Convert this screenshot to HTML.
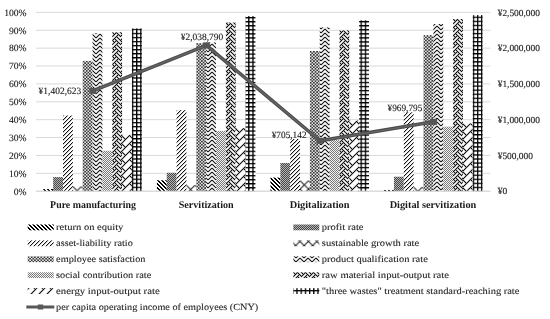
<!DOCTYPE html><html><head><meta charset="utf-8"><style>html,body{margin:0;padding:0;background:#fff;}svg{display:block;}text{font-family:"Liberation Serif",serif;text-rendering:geometricPrecision;}</style></head><body>
<svg width="550" height="319" viewBox="0 0 550 319">
<defs><pattern id="q1" patternUnits="userSpaceOnUse" x="43.00" y="189.00" width="4" height="4"><rect width="4" height="4" fill="#fff"/><g fill="#000"><rect x="0" y="0" width="1" height="1"/><rect x="1" y="0" width="1" height="1"/><rect x="1" y="1" width="1" height="1"/><rect x="2" y="1" width="1" height="1"/><rect x="2" y="2" width="1" height="1"/><rect x="3" y="2" width="1" height="1"/><rect x="3" y="3" width="1" height="1"/><rect x="0" y="3" width="1" height="1"/></g></pattern>
<pattern id="q2" patternUnits="userSpaceOnUse" x="53.00" y="177.00" width="2" height="2"><rect width="2" height="2" fill="#b4b4b4"/><rect width="1" height="1" fill="#474747"/><rect x="1" y="1" width="1" height="1" fill="#474747"/></pattern>
<pattern id="q3" patternUnits="userSpaceOnUse" x="63.00" y="116.00" width="4" height="4"><rect width="4" height="4" fill="#fff"/><rect x="3" y="0" width="1" height="1" fill="#111"/><rect x="0" y="0" width="1" height="1" fill="#c8c8c8"/><rect x="2" y="1" width="1" height="1" fill="#111"/><rect x="3" y="1" width="1" height="1" fill="#c8c8c8"/><rect x="1" y="2" width="1" height="1" fill="#111"/><rect x="2" y="2" width="1" height="1" fill="#c8c8c8"/><rect x="0" y="3" width="1" height="1" fill="#111"/><rect x="1" y="3" width="1" height="1" fill="#c8c8c8"/></pattern>
<pattern id="q4" patternUnits="userSpaceOnUse" x="72.85" y="186.55" width="8.5" height="8.5"><path d="M0,0 L8.5,8.5 M8.5,0 L0,8.5" stroke="#222" stroke-width="1.1"/></pattern>
<pattern id="q5" patternUnits="userSpaceOnUse" x="82.70" y="60.85" width="3.2" height="3.1"><rect width="3.2" height="3.1" fill="#e2e2e2"/><rect width="1.6" height="1.55" fill="#3a3a3a"/><rect x="1.6" y="1.55" width="1.6" height="1.55" fill="#3a3a3a"/></pattern>
<pattern id="q6" patternUnits="userSpaceOnUse" x="92.00" y="34.00" width="8.0" height="4.0"><rect width="8" height="4" fill="#fff"/><g id="q6g" fill="#1a1a1a" stroke="#1a1a1a" stroke-width="0.3"><rect x="0" y="0" width="1" height="1"/><rect x="7" y="0" width="1" height="1"/><rect x="1" y="1" width="1" height="1"/><rect x="6" y="1" width="1" height="1"/><rect x="2" y="2" width="1" height="1"/><rect x="5" y="2" width="1" height="1"/><rect x="3" y="3" width="2" height="1"/></g><use href="#q6g" x="-8" y="-4"/><use href="#q6g" x="-8" y="0"/><use href="#q6g" x="-8" y="4"/><use href="#q6g" x="0" y="-4"/><use href="#q6g" x="0" y="4"/><use href="#q6g" x="8" y="-4"/><use href="#q6g" x="8" y="0"/><use href="#q6g" x="8" y="4"/></pattern>
<pattern id="q7" patternUnits="userSpaceOnUse" x="102.00" y="151.00" width="2" height="2"><rect width="2" height="2" fill="#f2f2f2"/><rect width="1" height="1" fill="#7a7a7a"/><rect x="1" y="1" width="1" height="1" fill="#7a7a7a"/></pattern>
<pattern id="q8" patternUnits="userSpaceOnUse" x="112.00" y="32.00" width="8.0" height="8.0"><rect width="8" height="8" fill="#fff"/><g id="q8g" fill="#111" stroke="#111" stroke-width="0.3"><rect x="0" y="0" width="1" height="1"/><rect x="4" y="0" width="1" height="1"/><rect x="1" y="1" width="1" height="1"/><rect x="3" y="1" width="1" height="1"/><rect x="5" y="1" width="1" height="1"/><rect x="2" y="2" width="1" height="1"/><rect x="6" y="2" width="1" height="1"/><rect x="1" y="3" width="1" height="1"/><rect x="5" y="3" width="1" height="1"/><rect x="7" y="3" width="1" height="1"/><rect x="0" y="4" width="1" height="1"/><rect x="4" y="4" width="1" height="1"/><rect x="3" y="5" width="1" height="1"/><rect x="5" y="5" width="1" height="1"/><rect x="2" y="6" width="1" height="1"/><rect x="6" y="6" width="1" height="1"/><rect x="1" y="7" width="1" height="1"/><rect x="3" y="7" width="1" height="1"/><rect x="7" y="7" width="1" height="1"/></g><use href="#q8g" x="-8" y="-8"/><use href="#q8g" x="-8" y="0"/><use href="#q8g" x="-8" y="8"/><use href="#q8g" x="0" y="-8"/><use href="#q8g" x="0" y="8"/><use href="#q8g" x="8" y="-8"/><use href="#q8g" x="8" y="0"/><use href="#q8g" x="8" y="8"/></pattern>
<pattern id="q9" patternUnits="userSpaceOnUse" x="122.00" y="135.00" width="8.0" height="8.0"><rect width="8" height="8" fill="#fff"/><g id="q9g" fill="#111" stroke="#111" stroke-width="0.3"><rect x="7" y="0" width="1" height="1"/><rect x="0" y="1" width="1" height="1"/><rect x="6" y="1" width="1" height="1"/><rect x="1" y="2" width="1" height="1"/><rect x="5" y="2" width="1" height="1"/><rect x="2" y="3" width="1" height="1"/><rect x="4" y="3" width="1" height="1"/><rect x="3" y="4" width="1" height="1"/><rect x="2" y="5" width="1" height="1"/><rect x="1" y="6" width="1" height="1"/><rect x="0" y="7" width="1" height="1"/></g><use href="#q9g" x="-8" y="-8"/><use href="#q9g" x="-8" y="0"/><use href="#q9g" x="-8" y="8"/><use href="#q9g" x="0" y="-8"/><use href="#q9g" x="0" y="8"/><use href="#q9g" x="8" y="-8"/><use href="#q9g" x="8" y="0"/><use href="#q9g" x="8" y="8"/></pattern>
<pattern id="q10" patternUnits="userSpaceOnUse" x="131.85" y="28.75" width="4.2" height="4.05"><rect width="4.2" height="4.05" fill="#000"/><rect x="1.3" y="1.3" width="2.9" height="2.75" fill="#fff"/></pattern>
<pattern id="q11" patternUnits="userSpaceOnUse" x="157.00" y="180.00" width="4" height="4"><rect width="4" height="4" fill="#fff"/><g fill="#000"><rect x="0" y="0" width="1" height="1"/><rect x="1" y="0" width="1" height="1"/><rect x="1" y="1" width="1" height="1"/><rect x="2" y="1" width="1" height="1"/><rect x="2" y="2" width="1" height="1"/><rect x="3" y="2" width="1" height="1"/><rect x="3" y="3" width="1" height="1"/><rect x="0" y="3" width="1" height="1"/></g></pattern>
<pattern id="q12" patternUnits="userSpaceOnUse" x="167.00" y="173.00" width="2" height="2"><rect width="2" height="2" fill="#b4b4b4"/><rect width="1" height="1" fill="#474747"/><rect x="1" y="1" width="1" height="1" fill="#474747"/></pattern>
<pattern id="q13" patternUnits="userSpaceOnUse" x="177.00" y="110.00" width="4" height="4"><rect width="4" height="4" fill="#fff"/><rect x="3" y="0" width="1" height="1" fill="#111"/><rect x="0" y="0" width="1" height="1" fill="#c8c8c8"/><rect x="2" y="1" width="1" height="1" fill="#111"/><rect x="3" y="1" width="1" height="1" fill="#c8c8c8"/><rect x="1" y="2" width="1" height="1" fill="#111"/><rect x="2" y="2" width="1" height="1" fill="#c8c8c8"/><rect x="0" y="3" width="1" height="1" fill="#111"/><rect x="1" y="3" width="1" height="1" fill="#c8c8c8"/></pattern>
<pattern id="q14" patternUnits="userSpaceOnUse" x="186.45" y="185.30" width="8.5" height="8.5"><path d="M0,0 L8.5,8.5 M8.5,0 L0,8.5" stroke="#222" stroke-width="1.1"/></pattern>
<pattern id="q15" patternUnits="userSpaceOnUse" x="196.30" y="43.15" width="3.2" height="3.1"><rect width="3.2" height="3.1" fill="#e2e2e2"/><rect width="1.6" height="1.55" fill="#3a3a3a"/><rect x="1.6" y="1.55" width="1.6" height="1.55" fill="#3a3a3a"/></pattern>
<pattern id="q16" patternUnits="userSpaceOnUse" x="204.00" y="60.00" width="8.0" height="4.0"><rect width="8" height="4" fill="#fff"/><g id="q16g" fill="#1a1a1a" stroke="#1a1a1a" stroke-width="0.3"><rect x="0" y="0" width="1" height="1"/><rect x="7" y="0" width="1" height="1"/><rect x="1" y="1" width="1" height="1"/><rect x="6" y="1" width="1" height="1"/><rect x="2" y="2" width="1" height="1"/><rect x="5" y="2" width="1" height="1"/><rect x="3" y="3" width="2" height="1"/></g><use href="#q16g" x="-8" y="-4"/><use href="#q16g" x="-8" y="0"/><use href="#q16g" x="-8" y="4"/><use href="#q16g" x="0" y="-4"/><use href="#q16g" x="0" y="4"/><use href="#q16g" x="8" y="-4"/><use href="#q16g" x="8" y="0"/><use href="#q16g" x="8" y="4"/></pattern>
<pattern id="q17" patternUnits="userSpaceOnUse" x="216.00" y="131.00" width="2" height="2"><rect width="2" height="2" fill="#f2f2f2"/><rect width="1" height="1" fill="#7a7a7a"/><rect x="1" y="1" width="1" height="1" fill="#7a7a7a"/></pattern>
<pattern id="q18" patternUnits="userSpaceOnUse" x="226.00" y="23.00" width="8.0" height="8.0"><rect width="8" height="8" fill="#fff"/><g id="q18g" fill="#111" stroke="#111" stroke-width="0.3"><rect x="0" y="0" width="1" height="1"/><rect x="4" y="0" width="1" height="1"/><rect x="1" y="1" width="1" height="1"/><rect x="3" y="1" width="1" height="1"/><rect x="5" y="1" width="1" height="1"/><rect x="2" y="2" width="1" height="1"/><rect x="6" y="2" width="1" height="1"/><rect x="1" y="3" width="1" height="1"/><rect x="5" y="3" width="1" height="1"/><rect x="7" y="3" width="1" height="1"/><rect x="0" y="4" width="1" height="1"/><rect x="4" y="4" width="1" height="1"/><rect x="3" y="5" width="1" height="1"/><rect x="5" y="5" width="1" height="1"/><rect x="2" y="6" width="1" height="1"/><rect x="6" y="6" width="1" height="1"/><rect x="1" y="7" width="1" height="1"/><rect x="3" y="7" width="1" height="1"/><rect x="7" y="7" width="1" height="1"/></g><use href="#q18g" x="-8" y="-8"/><use href="#q18g" x="-8" y="0"/><use href="#q18g" x="-8" y="8"/><use href="#q18g" x="0" y="-8"/><use href="#q18g" x="0" y="8"/><use href="#q18g" x="8" y="-8"/><use href="#q18g" x="8" y="0"/><use href="#q18g" x="8" y="8"/></pattern>
<pattern id="q19" patternUnits="userSpaceOnUse" x="236.00" y="128.00" width="8.0" height="8.0"><rect width="8" height="8" fill="#fff"/><g id="q19g" fill="#111" stroke="#111" stroke-width="0.3"><rect x="7" y="0" width="1" height="1"/><rect x="0" y="1" width="1" height="1"/><rect x="6" y="1" width="1" height="1"/><rect x="1" y="2" width="1" height="1"/><rect x="5" y="2" width="1" height="1"/><rect x="2" y="3" width="1" height="1"/><rect x="4" y="3" width="1" height="1"/><rect x="3" y="4" width="1" height="1"/><rect x="2" y="5" width="1" height="1"/><rect x="1" y="6" width="1" height="1"/><rect x="0" y="7" width="1" height="1"/></g><use href="#q19g" x="-8" y="-8"/><use href="#q19g" x="-8" y="0"/><use href="#q19g" x="-8" y="8"/><use href="#q19g" x="0" y="-8"/><use href="#q19g" x="0" y="8"/><use href="#q19g" x="8" y="-8"/><use href="#q19g" x="8" y="0"/><use href="#q19g" x="8" y="8"/></pattern>
<pattern id="q20" patternUnits="userSpaceOnUse" x="248.15" y="17.05" width="4.2" height="4.05"><rect width="4.2" height="4.05" fill="#000"/><rect x="1.3" y="1.3" width="2.9" height="2.75" fill="#fff"/></pattern>
<pattern id="q21" patternUnits="userSpaceOnUse" x="270.00" y="178.00" width="4" height="4"><rect width="4" height="4" fill="#fff"/><g fill="#000"><rect x="0" y="0" width="1" height="1"/><rect x="1" y="0" width="1" height="1"/><rect x="1" y="1" width="1" height="1"/><rect x="2" y="1" width="1" height="1"/><rect x="2" y="2" width="1" height="1"/><rect x="3" y="2" width="1" height="1"/><rect x="3" y="3" width="1" height="1"/><rect x="0" y="3" width="1" height="1"/></g></pattern>
<pattern id="q22" patternUnits="userSpaceOnUse" x="280.00" y="163.00" width="2" height="2"><rect width="2" height="2" fill="#b4b4b4"/><rect width="1" height="1" fill="#474747"/><rect x="1" y="1" width="1" height="1" fill="#474747"/></pattern>
<pattern id="q23" patternUnits="userSpaceOnUse" x="290.00" y="139.00" width="4" height="4"><rect width="4" height="4" fill="#fff"/><rect x="3" y="0" width="1" height="1" fill="#111"/><rect x="0" y="0" width="1" height="1" fill="#c8c8c8"/><rect x="2" y="1" width="1" height="1" fill="#111"/><rect x="3" y="1" width="1" height="1" fill="#c8c8c8"/><rect x="1" y="2" width="1" height="1" fill="#111"/><rect x="2" y="2" width="1" height="1" fill="#c8c8c8"/><rect x="0" y="3" width="1" height="1" fill="#111"/><rect x="1" y="3" width="1" height="1" fill="#c8c8c8"/></pattern>
<pattern id="q24" patternUnits="userSpaceOnUse" x="300.05" y="180.65" width="8.5" height="8.5"><path d="M0,0 L8.5,8.5 M8.5,0 L0,8.5" stroke="#222" stroke-width="1.1"/></pattern>
<pattern id="q25" patternUnits="userSpaceOnUse" x="309.90" y="51.02" width="3.2" height="3.1"><rect width="3.2" height="3.1" fill="#e2e2e2"/><rect width="1.6" height="1.55" fill="#3a3a3a"/><rect x="1.6" y="1.55" width="1.6" height="1.55" fill="#3a3a3a"/></pattern>
<pattern id="q26" patternUnits="userSpaceOnUse" x="317.00" y="29.00" width="8.0" height="4.0"><rect width="8" height="4" fill="#fff"/><g id="q26g" fill="#1a1a1a" stroke="#1a1a1a" stroke-width="0.3"><rect x="0" y="0" width="1" height="1"/><rect x="7" y="0" width="1" height="1"/><rect x="1" y="1" width="1" height="1"/><rect x="6" y="1" width="1" height="1"/><rect x="2" y="2" width="1" height="1"/><rect x="5" y="2" width="1" height="1"/><rect x="3" y="3" width="2" height="1"/></g><use href="#q26g" x="-8" y="-4"/><use href="#q26g" x="-8" y="0"/><use href="#q26g" x="-8" y="4"/><use href="#q26g" x="0" y="-4"/><use href="#q26g" x="0" y="4"/><use href="#q26g" x="8" y="-4"/><use href="#q26g" x="8" y="0"/><use href="#q26g" x="8" y="4"/></pattern>
<pattern id="q27" patternUnits="userSpaceOnUse" x="330.00" y="140.00" width="2" height="2"><rect width="2" height="2" fill="#f2f2f2"/><rect width="1" height="1" fill="#7a7a7a"/><rect x="1" y="1" width="1" height="1" fill="#7a7a7a"/></pattern>
<pattern id="q28" patternUnits="userSpaceOnUse" x="339.00" y="30.00" width="8.0" height="8.0"><rect width="8" height="8" fill="#fff"/><g id="q28g" fill="#111" stroke="#111" stroke-width="0.3"><rect x="0" y="0" width="1" height="1"/><rect x="4" y="0" width="1" height="1"/><rect x="1" y="1" width="1" height="1"/><rect x="3" y="1" width="1" height="1"/><rect x="5" y="1" width="1" height="1"/><rect x="2" y="2" width="1" height="1"/><rect x="6" y="2" width="1" height="1"/><rect x="1" y="3" width="1" height="1"/><rect x="5" y="3" width="1" height="1"/><rect x="7" y="3" width="1" height="1"/><rect x="0" y="4" width="1" height="1"/><rect x="4" y="4" width="1" height="1"/><rect x="3" y="5" width="1" height="1"/><rect x="5" y="5" width="1" height="1"/><rect x="2" y="6" width="1" height="1"/><rect x="6" y="6" width="1" height="1"/><rect x="1" y="7" width="1" height="1"/><rect x="3" y="7" width="1" height="1"/><rect x="7" y="7" width="1" height="1"/></g><use href="#q28g" x="-8" y="-8"/><use href="#q28g" x="-8" y="0"/><use href="#q28g" x="-8" y="8"/><use href="#q28g" x="0" y="-8"/><use href="#q28g" x="0" y="8"/><use href="#q28g" x="8" y="-8"/><use href="#q28g" x="8" y="0"/><use href="#q28g" x="8" y="8"/></pattern>
<pattern id="q29" patternUnits="userSpaceOnUse" x="349.00" y="121.00" width="8.0" height="8.0"><rect width="8" height="8" fill="#fff"/><g id="q29g" fill="#111" stroke="#111" stroke-width="0.3"><rect x="7" y="0" width="1" height="1"/><rect x="0" y="1" width="1" height="1"/><rect x="6" y="1" width="1" height="1"/><rect x="1" y="2" width="1" height="1"/><rect x="5" y="2" width="1" height="1"/><rect x="2" y="3" width="1" height="1"/><rect x="4" y="3" width="1" height="1"/><rect x="3" y="4" width="1" height="1"/><rect x="2" y="5" width="1" height="1"/><rect x="1" y="6" width="1" height="1"/><rect x="0" y="7" width="1" height="1"/></g><use href="#q29g" x="-8" y="-8"/><use href="#q29g" x="-8" y="0"/><use href="#q29g" x="-8" y="8"/><use href="#q29g" x="0" y="-8"/><use href="#q29g" x="0" y="8"/><use href="#q29g" x="8" y="-8"/><use href="#q29g" x="8" y="0"/><use href="#q29g" x="8" y="8"/></pattern>
<pattern id="q30" patternUnits="userSpaceOnUse" x="360.55" y="21.05" width="4.2" height="4.05"><rect width="4.2" height="4.05" fill="#000"/><rect x="1.3" y="1.3" width="2.9" height="2.75" fill="#fff"/></pattern>
<pattern id="q31" patternUnits="userSpaceOnUse" x="384.00" y="190.00" width="4" height="4"><rect width="4" height="4" fill="#fff"/><g fill="#000"><rect x="0" y="0" width="1" height="1"/><rect x="1" y="0" width="1" height="1"/><rect x="1" y="1" width="1" height="1"/><rect x="2" y="1" width="1" height="1"/><rect x="2" y="2" width="1" height="1"/><rect x="3" y="2" width="1" height="1"/><rect x="3" y="3" width="1" height="1"/><rect x="0" y="3" width="1" height="1"/></g></pattern>
<pattern id="q32" patternUnits="userSpaceOnUse" x="394.00" y="177.00" width="2" height="2"><rect width="2" height="2" fill="#b4b4b4"/><rect width="1" height="1" fill="#474747"/><rect x="1" y="1" width="1" height="1" fill="#474747"/></pattern>
<pattern id="q33" patternUnits="userSpaceOnUse" x="404.00" y="112.00" width="4" height="4"><rect width="4" height="4" fill="#fff"/><rect x="3" y="0" width="1" height="1" fill="#111"/><rect x="0" y="0" width="1" height="1" fill="#c8c8c8"/><rect x="2" y="1" width="1" height="1" fill="#111"/><rect x="3" y="1" width="1" height="1" fill="#c8c8c8"/><rect x="1" y="2" width="1" height="1" fill="#111"/><rect x="2" y="2" width="1" height="1" fill="#c8c8c8"/><rect x="0" y="3" width="1" height="1" fill="#111"/><rect x="1" y="3" width="1" height="1" fill="#c8c8c8"/></pattern>
<pattern id="q34" patternUnits="userSpaceOnUse" x="413.65" y="187.27" width="8.5" height="8.5"><path d="M0,0 L8.5,8.5 M8.5,0 L0,8.5" stroke="#222" stroke-width="1.1"/></pattern>
<pattern id="q35" patternUnits="userSpaceOnUse" x="423.50" y="35.11" width="3.2" height="3.1"><rect width="3.2" height="3.1" fill="#e2e2e2"/><rect width="1.6" height="1.55" fill="#3a3a3a"/><rect x="1.6" y="1.55" width="1.6" height="1.55" fill="#3a3a3a"/></pattern>
<pattern id="q36" patternUnits="userSpaceOnUse" x="429.00" y="42.00" width="8.0" height="4.0"><rect width="8" height="4" fill="#fff"/><g id="q36g" fill="#1a1a1a" stroke="#1a1a1a" stroke-width="0.3"><rect x="0" y="0" width="1" height="1"/><rect x="7" y="0" width="1" height="1"/><rect x="1" y="1" width="1" height="1"/><rect x="6" y="1" width="1" height="1"/><rect x="2" y="2" width="1" height="1"/><rect x="5" y="2" width="1" height="1"/><rect x="3" y="3" width="2" height="1"/></g><use href="#q36g" x="-8" y="-4"/><use href="#q36g" x="-8" y="0"/><use href="#q36g" x="-8" y="4"/><use href="#q36g" x="0" y="-4"/><use href="#q36g" x="0" y="4"/><use href="#q36g" x="8" y="-4"/><use href="#q36g" x="8" y="0"/><use href="#q36g" x="8" y="4"/></pattern>
<pattern id="q37" patternUnits="userSpaceOnUse" x="443.00" y="127.00" width="2" height="2"><rect width="2" height="2" fill="#f2f2f2"/><rect width="1" height="1" fill="#7a7a7a"/><rect x="1" y="1" width="1" height="1" fill="#7a7a7a"/></pattern>
<pattern id="q38" patternUnits="userSpaceOnUse" x="453.00" y="19.00" width="8.0" height="8.0"><rect width="8" height="8" fill="#fff"/><g id="q38g" fill="#111" stroke="#111" stroke-width="0.3"><rect x="0" y="0" width="1" height="1"/><rect x="4" y="0" width="1" height="1"/><rect x="1" y="1" width="1" height="1"/><rect x="3" y="1" width="1" height="1"/><rect x="5" y="1" width="1" height="1"/><rect x="2" y="2" width="1" height="1"/><rect x="6" y="2" width="1" height="1"/><rect x="1" y="3" width="1" height="1"/><rect x="5" y="3" width="1" height="1"/><rect x="7" y="3" width="1" height="1"/><rect x="0" y="4" width="1" height="1"/><rect x="4" y="4" width="1" height="1"/><rect x="3" y="5" width="1" height="1"/><rect x="5" y="5" width="1" height="1"/><rect x="2" y="6" width="1" height="1"/><rect x="6" y="6" width="1" height="1"/><rect x="1" y="7" width="1" height="1"/><rect x="3" y="7" width="1" height="1"/><rect x="7" y="7" width="1" height="1"/></g><use href="#q38g" x="-8" y="-8"/><use href="#q38g" x="-8" y="0"/><use href="#q38g" x="-8" y="8"/><use href="#q38g" x="0" y="-8"/><use href="#q38g" x="0" y="8"/><use href="#q38g" x="8" y="-8"/><use href="#q38g" x="8" y="0"/><use href="#q38g" x="8" y="8"/></pattern>
<pattern id="q39" patternUnits="userSpaceOnUse" x="463.00" y="123.00" width="8.0" height="8.0"><rect width="8" height="8" fill="#fff"/><g id="q39g" fill="#111" stroke="#111" stroke-width="0.3"><rect x="7" y="0" width="1" height="1"/><rect x="0" y="1" width="1" height="1"/><rect x="6" y="1" width="1" height="1"/><rect x="1" y="2" width="1" height="1"/><rect x="5" y="2" width="1" height="1"/><rect x="2" y="3" width="1" height="1"/><rect x="4" y="3" width="1" height="1"/><rect x="3" y="4" width="1" height="1"/><rect x="2" y="5" width="1" height="1"/><rect x="1" y="6" width="1" height="1"/><rect x="0" y="7" width="1" height="1"/></g><use href="#q39g" x="-8" y="-8"/><use href="#q39g" x="-8" y="0"/><use href="#q39g" x="-8" y="8"/><use href="#q39g" x="0" y="-8"/><use href="#q39g" x="0" y="8"/><use href="#q39g" x="8" y="-8"/><use href="#q39g" x="8" y="0"/><use href="#q39g" x="8" y="8"/></pattern>
<pattern id="q40" patternUnits="userSpaceOnUse" x="472.75" y="16.65" width="4.2" height="4.05"><rect width="4.2" height="4.05" fill="#000"/><rect x="1.3" y="1.3" width="2.9" height="2.75" fill="#fff"/></pattern>
<pattern id="q41" patternUnits="userSpaceOnUse" x="28.00" y="224.00" width="4" height="4"><rect width="4" height="4" fill="#fff"/><g fill="#000"><rect x="0" y="0" width="1" height="1"/><rect x="1" y="0" width="1" height="1"/><rect x="1" y="1" width="1" height="1"/><rect x="2" y="1" width="1" height="1"/><rect x="2" y="2" width="1" height="1"/><rect x="3" y="2" width="1" height="1"/><rect x="3" y="3" width="1" height="1"/><rect x="0" y="3" width="1" height="1"/></g></pattern>
<pattern id="q42" patternUnits="userSpaceOnUse" x="28.00" y="240.00" width="4" height="4"><rect width="4" height="4" fill="#fff"/><rect x="3" y="0" width="1" height="1" fill="#111"/><rect x="0" y="0" width="1" height="1" fill="#c8c8c8"/><rect x="2" y="1" width="1" height="1" fill="#111"/><rect x="3" y="1" width="1" height="1" fill="#c8c8c8"/><rect x="1" y="2" width="1" height="1" fill="#111"/><rect x="2" y="2" width="1" height="1" fill="#c8c8c8"/><rect x="0" y="3" width="1" height="1" fill="#111"/><rect x="1" y="3" width="1" height="1" fill="#c8c8c8"/></pattern>
<pattern id="q43" patternUnits="userSpaceOnUse" x="27.70" y="256.34" width="3.2" height="3.1"><rect width="3.2" height="3.1" fill="#e2e2e2"/><rect width="1.6" height="1.55" fill="#3a3a3a"/><rect x="1.6" y="1.55" width="1.6" height="1.55" fill="#3a3a3a"/></pattern>
<pattern id="q44" patternUnits="userSpaceOnUse" x="28.00" y="272.00" width="2" height="2"><rect width="2" height="2" fill="#f2f2f2"/><rect width="1" height="1" fill="#7a7a7a"/><rect x="1" y="1" width="1" height="1" fill="#7a7a7a"/></pattern>
<pattern id="q45" patternUnits="userSpaceOnUse" x="32.00" y="285.00" width="8.0" height="8.0"><rect width="8" height="8" fill="#fff"/><g id="q45g" fill="#111" stroke="#111" stroke-width="0.3"><rect x="7" y="0" width="1" height="1"/><rect x="0" y="1" width="1" height="1"/><rect x="6" y="1" width="1" height="1"/><rect x="1" y="2" width="1" height="1"/><rect x="5" y="2" width="1" height="1"/><rect x="2" y="3" width="1" height="1"/><rect x="4" y="3" width="1" height="1"/><rect x="3" y="4" width="1" height="1"/><rect x="2" y="5" width="1" height="1"/><rect x="1" y="6" width="1" height="1"/><rect x="0" y="7" width="1" height="1"/></g><use href="#q45g" x="-8" y="-8"/><use href="#q45g" x="-8" y="0"/><use href="#q45g" x="-8" y="8"/><use href="#q45g" x="0" y="-8"/><use href="#q45g" x="0" y="8"/><use href="#q45g" x="8" y="-8"/><use href="#q45g" x="8" y="0"/><use href="#q45g" x="8" y="8"/></pattern>
<pattern id="q46" patternUnits="userSpaceOnUse" x="293.00" y="224.00" width="2" height="2"><rect width="2" height="2" fill="#b4b4b4"/><rect width="1" height="1" fill="#474747"/><rect x="1" y="1" width="1" height="1" fill="#474747"/></pattern>
<pattern id="q47" patternUnits="userSpaceOnUse" x="295.65" y="237.07" width="8.5" height="8.5"><path d="M0,0 L8.5,8.5 M8.5,0 L0,8.5" stroke="#222" stroke-width="1.1"/></pattern>
<pattern id="q48" patternUnits="userSpaceOnUse" x="292.00" y="258.00" width="8.0" height="4.0"><rect width="8" height="4" fill="#fff"/><g id="q48g" fill="#1a1a1a" stroke="#1a1a1a" stroke-width="0.3"><rect x="0" y="0" width="1" height="1"/><rect x="7" y="0" width="1" height="1"/><rect x="1" y="1" width="1" height="1"/><rect x="6" y="1" width="1" height="1"/><rect x="2" y="2" width="1" height="1"/><rect x="5" y="2" width="1" height="1"/><rect x="3" y="3" width="2" height="1"/></g><use href="#q48g" x="-8" y="-4"/><use href="#q48g" x="-8" y="0"/><use href="#q48g" x="-8" y="4"/><use href="#q48g" x="0" y="-4"/><use href="#q48g" x="0" y="4"/><use href="#q48g" x="8" y="-4"/><use href="#q48g" x="8" y="0"/><use href="#q48g" x="8" y="4"/></pattern>
<pattern id="q49" patternUnits="userSpaceOnUse" x="293.00" y="272.00" width="8.0" height="8.0"><rect width="8" height="8" fill="#fff"/><g id="q49g" fill="#111" stroke="#111" stroke-width="0.3"><rect x="0" y="0" width="1" height="1"/><rect x="4" y="0" width="1" height="1"/><rect x="1" y="1" width="1" height="1"/><rect x="3" y="1" width="1" height="1"/><rect x="5" y="1" width="1" height="1"/><rect x="2" y="2" width="1" height="1"/><rect x="6" y="2" width="1" height="1"/><rect x="1" y="3" width="1" height="1"/><rect x="5" y="3" width="1" height="1"/><rect x="7" y="3" width="1" height="1"/><rect x="0" y="4" width="1" height="1"/><rect x="4" y="4" width="1" height="1"/><rect x="3" y="5" width="1" height="1"/><rect x="5" y="5" width="1" height="1"/><rect x="2" y="6" width="1" height="1"/><rect x="6" y="6" width="1" height="1"/><rect x="1" y="7" width="1" height="1"/><rect x="3" y="7" width="1" height="1"/><rect x="7" y="7" width="1" height="1"/></g><use href="#q49g" x="-8" y="-8"/><use href="#q49g" x="-8" y="0"/><use href="#q49g" x="-8" y="8"/><use href="#q49g" x="0" y="-8"/><use href="#q49g" x="0" y="8"/><use href="#q49g" x="8" y="-8"/><use href="#q49g" x="8" y="0"/><use href="#q49g" x="8" y="8"/></pattern>
<pattern id="q50" patternUnits="userSpaceOnUse" x="296.35" y="289.95" width="4.2" height="4.05"><rect width="4.2" height="4.05" fill="#000"/><rect x="1.3" y="1.3" width="2.9" height="2.75" fill="#fff"/></pattern></defs>
<rect width="550" height="319" fill="#fff"/>
<line x1="36.0" x2="490.40" y1="191.20" y2="191.20" stroke="#d9d9d9" stroke-width="1"/>
<line x1="36.0" x2="490.40" y1="173.32" y2="173.32" stroke="#d9d9d9" stroke-width="1"/>
<line x1="36.0" x2="490.40" y1="155.44" y2="155.44" stroke="#d9d9d9" stroke-width="1"/>
<line x1="36.0" x2="490.40" y1="137.56" y2="137.56" stroke="#d9d9d9" stroke-width="1"/>
<line x1="36.0" x2="490.40" y1="119.68" y2="119.68" stroke="#d9d9d9" stroke-width="1"/>
<line x1="36.0" x2="490.40" y1="101.80" y2="101.80" stroke="#d9d9d9" stroke-width="1"/>
<line x1="36.0" x2="490.40" y1="83.92" y2="83.92" stroke="#d9d9d9" stroke-width="1"/>
<line x1="36.0" x2="490.40" y1="66.04" y2="66.04" stroke="#d9d9d9" stroke-width="1"/>
<line x1="36.0" x2="490.40" y1="48.16" y2="48.16" stroke="#d9d9d9" stroke-width="1"/>
<line x1="36.0" x2="490.40" y1="30.28" y2="30.28" stroke="#d9d9d9" stroke-width="1"/>
<line x1="36.0" x2="490.40" y1="12.40" y2="12.40" stroke="#d9d9d9" stroke-width="1"/>
<rect x="43.30" y="189.05" width="9.85" height="2.15" fill="url(#q1)"/>
<rect x="53.15" y="177.07" width="9.85" height="14.13" fill="url(#q2)"/>
<rect x="63.00" y="115.57" width="9.85" height="75.63" fill="url(#q3)"/>
<rect x="72.85" y="186.55" width="9.85" height="4.65" fill="url(#q4)"/>
<rect x="82.70" y="60.85" width="9.85" height="130.35" fill="url(#q5)"/>
<rect x="92.55" y="33.50" width="9.85" height="157.70" fill="url(#q6)"/>
<rect x="102.40" y="150.79" width="9.85" height="40.41" fill="url(#q7)"/>
<rect x="112.25" y="32.25" width="9.85" height="158.95" fill="url(#q8)"/>
<rect x="122.10" y="134.88" width="9.85" height="56.32" fill="url(#q9)"/>
<rect x="131.95" y="28.49" width="9.85" height="162.71" fill="url(#q10)"/>
<rect x="156.90" y="180.29" width="9.85" height="10.91" fill="url(#q11)"/>
<rect x="166.75" y="172.78" width="9.85" height="18.42" fill="url(#q12)"/>
<rect x="176.60" y="110.20" width="9.85" height="81.00" fill="url(#q13)"/>
<rect x="186.45" y="185.30" width="9.85" height="5.90" fill="url(#q14)"/>
<rect x="196.30" y="43.15" width="9.85" height="148.05" fill="url(#q15)"/>
<rect x="206.15" y="42.44" width="9.85" height="148.76" fill="url(#q16)"/>
<rect x="216.00" y="130.94" width="9.85" height="60.26" fill="url(#q17)"/>
<rect x="225.85" y="22.59" width="9.85" height="168.61" fill="url(#q18)"/>
<rect x="235.70" y="128.08" width="9.85" height="63.12" fill="url(#q19)"/>
<rect x="245.55" y="16.15" width="9.85" height="175.05" fill="url(#q20)"/>
<rect x="270.50" y="177.61" width="9.85" height="13.59" fill="url(#q21)"/>
<rect x="280.35" y="162.95" width="9.85" height="28.25" fill="url(#q22)"/>
<rect x="290.20" y="138.99" width="9.85" height="52.21" fill="url(#q23)"/>
<rect x="300.05" y="180.65" width="9.85" height="10.55" fill="url(#q24)"/>
<rect x="309.90" y="51.02" width="9.85" height="140.18" fill="url(#q25)"/>
<rect x="319.75" y="27.42" width="9.85" height="163.78" fill="url(#q26)"/>
<rect x="329.60" y="140.06" width="9.85" height="51.14" fill="url(#q27)"/>
<rect x="339.45" y="30.46" width="9.85" height="160.74" fill="url(#q28)"/>
<rect x="349.30" y="120.57" width="9.85" height="70.63" fill="url(#q29)"/>
<rect x="359.15" y="20.27" width="9.85" height="170.93" fill="url(#q30)"/>
<rect x="384.10" y="189.95" width="9.85" height="1.25" fill="url(#q31)"/>
<rect x="393.95" y="176.72" width="9.85" height="14.48" fill="url(#q32)"/>
<rect x="403.80" y="112.35" width="9.85" height="78.85" fill="url(#q33)"/>
<rect x="413.65" y="187.27" width="9.85" height="3.93" fill="url(#q34)"/>
<rect x="423.50" y="35.11" width="9.85" height="156.09" fill="url(#q35)"/>
<rect x="433.35" y="24.02" width="9.85" height="167.18" fill="url(#q36)"/>
<rect x="443.20" y="126.65" width="9.85" height="64.55" fill="url(#q37)"/>
<rect x="453.05" y="19.02" width="9.85" height="172.18" fill="url(#q38)"/>
<rect x="462.90" y="123.43" width="9.85" height="67.77" fill="url(#q39)"/>
<rect x="472.75" y="15.08" width="9.85" height="176.12" fill="url(#q40)"/>
<line x1="36.0" x2="490.40" y1="191.2" y2="191.2" stroke="#d9d9d9" stroke-width="1"/>
<polyline points="92.80,90.88 206.40,45.39 320.00,140.77 433.60,121.84" fill="none" stroke="#4d4d4d" stroke-width="3.5" stroke-linejoin="round"/>
<polyline points="92.80,90.88 206.40,45.39 320.00,140.77 433.60,121.84" fill="none" stroke="#666" stroke-width="1.2" stroke-linejoin="round"/>
<rect x="89.30" y="87.88" width="7" height="6" fill="#555"/>
<rect x="202.90" y="42.39" width="7" height="6" fill="#555"/>
<rect x="316.50" y="137.77" width="7" height="6" fill="#555"/>
<rect x="430.10" y="118.84" width="7" height="6" fill="#555"/>
<text x="26.6" y="194.50" font-size="9.6" text-anchor="end" fill="#1a1a1a" stroke="#1a1a1a" stroke-width="0.12">0%</text>
<text x="26.6" y="176.62" font-size="9.6" text-anchor="end" fill="#1a1a1a" stroke="#1a1a1a" stroke-width="0.12">10%</text>
<text x="26.6" y="158.74" font-size="9.6" text-anchor="end" fill="#1a1a1a" stroke="#1a1a1a" stroke-width="0.12">20%</text>
<text x="26.6" y="140.86" font-size="9.6" text-anchor="end" fill="#1a1a1a" stroke="#1a1a1a" stroke-width="0.12">30%</text>
<text x="26.6" y="122.98" font-size="9.6" text-anchor="end" fill="#1a1a1a" stroke="#1a1a1a" stroke-width="0.12">40%</text>
<text x="26.6" y="105.10" font-size="9.6" text-anchor="end" fill="#1a1a1a" stroke="#1a1a1a" stroke-width="0.12">50%</text>
<text x="26.6" y="87.22" font-size="9.6" text-anchor="end" fill="#1a1a1a" stroke="#1a1a1a" stroke-width="0.12">60%</text>
<text x="26.6" y="69.34" font-size="9.6" text-anchor="end" fill="#1a1a1a" stroke="#1a1a1a" stroke-width="0.12">70%</text>
<text x="26.6" y="51.46" font-size="9.6" text-anchor="end" fill="#1a1a1a" stroke="#1a1a1a" stroke-width="0.12">80%</text>
<text x="26.6" y="33.58" font-size="9.6" text-anchor="end" fill="#1a1a1a" stroke="#1a1a1a" stroke-width="0.12">90%</text>
<text x="26.6" y="15.70" font-size="9.6" text-anchor="end" fill="#1a1a1a" stroke="#1a1a1a" stroke-width="0.12">100%</text>
<text x="497.7" y="194.40" font-size="9.4" fill="#1a1a1a" stroke="#1a1a1a" stroke-width="0.12">¥0</text>
<text x="497.7" y="158.64" font-size="9.4" fill="#1a1a1a" stroke="#1a1a1a" stroke-width="0.12">¥500,000</text>
<text x="497.7" y="122.88" font-size="9.4" fill="#1a1a1a" stroke="#1a1a1a" stroke-width="0.12">¥1,000,000</text>
<text x="497.7" y="87.12" font-size="9.4" fill="#1a1a1a" stroke="#1a1a1a" stroke-width="0.12">¥1,500,000</text>
<text x="497.7" y="51.36" font-size="9.4" fill="#1a1a1a" stroke="#1a1a1a" stroke-width="0.12">¥2,000,000</text>
<text x="497.7" y="15.60" font-size="9.4" fill="#1a1a1a" stroke="#1a1a1a" stroke-width="0.12">¥2,500,000</text>
<text x="38.60" y="94.20" font-size="9.6" fill="#1a1a1a" stroke="#1a1a1a" stroke-width="0.12" textLength="42.60" lengthAdjust="spacingAndGlyphs">¥1,402,623</text>
<text x="180.70" y="39.50" font-size="9.6" fill="#1a1a1a" stroke="#1a1a1a" stroke-width="0.12" textLength="42.60" lengthAdjust="spacingAndGlyphs">¥2,038,790</text>
<text x="271.70" y="137.60" font-size="9.6" fill="#1a1a1a" stroke="#1a1a1a" stroke-width="0.12" textLength="34.90" lengthAdjust="spacingAndGlyphs">¥705,142</text>
<text x="387.50" y="110.70" font-size="9.6" fill="#1a1a1a" stroke="#1a1a1a" stroke-width="0.12" textLength="34.80" lengthAdjust="spacingAndGlyphs">¥969,795</text>
<text x="50.10" y="208.2" font-size="10.2" font-weight="bold" fill="#1a1a1a" textLength="85.80" lengthAdjust="spacingAndGlyphs">Pure manufacturing</text>
<text x="178.70" y="208.2" font-size="10.2" font-weight="bold" fill="#1a1a1a" textLength="55.00" lengthAdjust="spacingAndGlyphs">Servitization</text>
<text x="289.70" y="208.2" font-size="10.2" font-weight="bold" fill="#1a1a1a" textLength="59.80" lengthAdjust="spacingAndGlyphs">Digitalization</text>
<text x="389.70" y="208.2" font-size="10.2" font-weight="bold" fill="#1a1a1a" textLength="86.60" lengthAdjust="spacingAndGlyphs">Digital servitization</text>
<rect x="27.7" y="224.50" width="26" height="5.8" fill="url(#q41)"/>
<text x="56.10" y="230.10" font-size="9.4" fill="#1f1f1f" stroke="#1f1f1f" stroke-width="0.1" textLength="67.30" lengthAdjust="spacingAndGlyphs">return on equity</text>
<rect x="27.7" y="240.42" width="26" height="5.8" fill="url(#q42)"/>
<text x="56.10" y="246.02" font-size="9.4" fill="#1f1f1f" stroke="#1f1f1f" stroke-width="0.1" textLength="76.70" lengthAdjust="spacingAndGlyphs">asset-liability ratio</text>
<rect x="27.7" y="256.34" width="26" height="5.8" fill="url(#q43)"/>
<text x="56.10" y="261.94" font-size="9.4" fill="#1f1f1f" stroke="#1f1f1f" stroke-width="0.1" textLength="89.40" lengthAdjust="spacingAndGlyphs">employee satisfaction</text>
<rect x="27.7" y="272.26" width="26" height="5.8" fill="url(#q44)"/>
<text x="56.10" y="277.86" font-size="9.4" fill="#1f1f1f" stroke="#1f1f1f" stroke-width="0.1" textLength="95.20" lengthAdjust="spacingAndGlyphs">social contribution rate</text>
<rect x="27.7" y="288.18" width="26" height="5.8" fill="url(#q45)"/>
<text x="56.10" y="293.78" font-size="9.4" fill="#1f1f1f" stroke="#1f1f1f" stroke-width="0.1" textLength="103.60" lengthAdjust="spacingAndGlyphs">energy input-output rate</text>
<line x1="26.3" x2="54.3" y1="307.00" y2="307.00" stroke="#595959" stroke-width="3"/>
<rect x="37.8" y="304.50" width="5.4" height="5" fill="#595959"/>
<text x="56.10" y="309.70" font-size="9.4" fill="#1f1f1f" stroke="#1f1f1f" stroke-width="0.1" textLength="202.10" lengthAdjust="spacingAndGlyphs">per capita operating income of employees (CNY)</text>
<rect x="293.3" y="224.50" width="26" height="5.8" fill="url(#q46)"/>
<text x="321.80" y="230.10" font-size="9.4" fill="#1f1f1f" stroke="#1f1f1f" stroke-width="0.1" textLength="41.70" lengthAdjust="spacingAndGlyphs">profit rate</text>
<rect x="293.3" y="240.42" width="26" height="5.8" fill="url(#q47)"/>
<text x="321.80" y="246.02" font-size="9.4" fill="#1f1f1f" stroke="#1f1f1f" stroke-width="0.1" textLength="97.40" lengthAdjust="spacingAndGlyphs">sustainable growth rate</text>
<rect x="293.3" y="256.34" width="26" height="5.8" fill="url(#q48)"/>
<text x="321.80" y="261.94" font-size="9.4" fill="#1f1f1f" stroke="#1f1f1f" stroke-width="0.1" textLength="106.00" lengthAdjust="spacingAndGlyphs">product qualification rate</text>
<rect x="293.3" y="272.26" width="26" height="5.8" fill="url(#q49)"/>
<text x="321.80" y="277.86" font-size="9.4" fill="#1f1f1f" stroke="#1f1f1f" stroke-width="0.1" textLength="127.20" lengthAdjust="spacingAndGlyphs">raw material input-output rate</text>
<rect x="293.3" y="288.18" width="26" height="5.8" fill="url(#q50)"/>
<text x="321.80" y="293.78" font-size="9.4" fill="#1f1f1f" stroke="#1f1f1f" stroke-width="0.1" textLength="197.60" lengthAdjust="spacingAndGlyphs">&quot;three wastes&quot; treatment standard-reaching rate</text>
</svg></body></html>
